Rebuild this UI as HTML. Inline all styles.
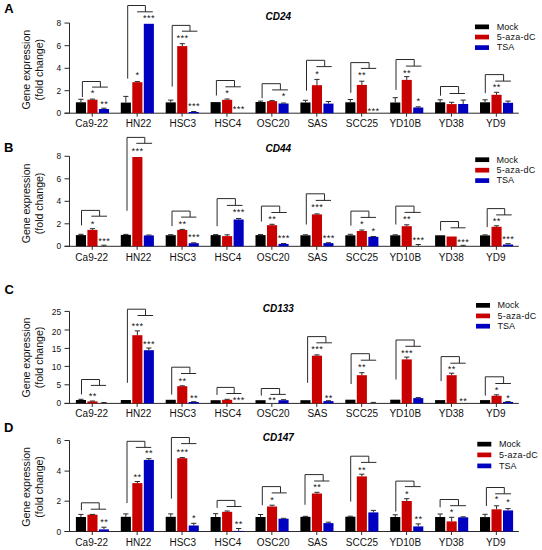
<!DOCTYPE html>
<html><head><meta charset="utf-8"><style>
html,body{margin:0;padding:0;background:#fff;}
body{width:542px;height:550px;overflow:hidden;}
svg{display:block;font-family:"Liberation Sans", sans-serif;}
</style></head><body>
<svg width="542" height="550" viewBox="0 0 542 550">
<rect width="542" height="550" fill="#fff"/>
<text transform="translate(4.3 13.4) scale(1 1.04)" font-size="13.0" font-weight="bold" fill="#000">A</text>
<text x="278.3" y="19.9" font-size="10.0" font-weight="bold" font-style="italic" text-anchor="middle" fill="#000">CD24</text>
<path d="M69.5 23.05V113.2" stroke="#2a2a2a" stroke-width="1.0" fill="none"/>
<path d="M64.5 113.2H69.5" stroke="#2a2a2a" stroke-width="1.0"/>
<text x="61.2" y="116.2" font-size="8.4" text-anchor="end" fill="#111">0</text>
<path d="M64.5 90.7H69.5" stroke="#2a2a2a" stroke-width="1.0"/>
<text x="61.2" y="93.7" font-size="8.4" text-anchor="end" fill="#111">2</text>
<path d="M64.5 68.3H69.5" stroke="#2a2a2a" stroke-width="1.0"/>
<text x="61.2" y="71.3" font-size="8.4" text-anchor="end" fill="#111">4</text>
<path d="M64.5 45.7H69.5" stroke="#2a2a2a" stroke-width="1.0"/>
<text x="61.2" y="48.7" font-size="8.4" text-anchor="end" fill="#111">6</text>
<path d="M64.5 23.05H69.5" stroke="#2a2a2a" stroke-width="1.0"/>
<text x="61.2" y="26.05" font-size="8.4" text-anchor="end" fill="#111">8</text>
<path d="M64.5 113.2H518.8" stroke="#2a2a2a" stroke-width="1.0" fill="none"/>
<text transform="translate(29.9 69.7) rotate(-90)" font-size="10.55" text-anchor="middle" fill="#111">Gene expression</text>
<text transform="translate(43 69.7) rotate(-90)" font-size="10.55" text-anchor="middle" fill="#111">(fold change)</text>
<rect x="75.9" y="102.3" width="10.1" height="10.9" fill="#000000"/>
<path d="M80.95 102.3V99.3M78.35 99.3H83.55" stroke="#2a2a2a" stroke-width="1.0" fill="none"/>
<rect x="87.4" y="99.7" width="10.1" height="13.5" fill="#c80000"/>
<path d="M92.45 99.7V99.1M89.85 99.1H95.05" stroke="#2a2a2a" stroke-width="1.0" fill="none"/>
<rect x="98.9" y="109" width="10.1" height="4.2" fill="#0000c0"/>
<path d="M103.95 109V108.2M101.35 108.2H106.55" stroke="#2a2a2a" stroke-width="1.0" fill="none"/>
<path d="M92.25 113.2V116.7" stroke="#2a2a2a" stroke-width="1.0"/>
<text x="91.75" y="127" font-size="10.0" text-anchor="middle" fill="#111">Ca9-22</text>
<path d="M82.4 97V81.5H100.4V87.1M92.1 87.1H107.8" stroke="#2a2a2a" stroke-width="1.0" fill="none"/>
<text x="92.66" y="96.3" font-size="9.2" text-anchor="middle" letter-spacing="0.42" fill="#111">*</text>
<text x="104.16" y="107" font-size="9.2" text-anchor="middle" letter-spacing="0.42" fill="#111">**</text>
<rect x="120.8" y="102.6" width="10.1" height="10.6" fill="#000000"/>
<path d="M125.85 102.6V96.4M123.25 96.4H128.45" stroke="#2a2a2a" stroke-width="1.0" fill="none"/>
<rect x="132.3" y="82.2" width="10.1" height="31" fill="#c80000"/>
<path d="M137.35 82.2V81.6M134.75 81.6H139.95" stroke="#2a2a2a" stroke-width="1.0" fill="none"/>
<rect x="143.8" y="23.8" width="10.1" height="89.4" fill="#0000c0"/>
<path d="M137.15 113.2V116.7" stroke="#2a2a2a" stroke-width="1.0"/>
<text x="138.55" y="127" font-size="10.0" text-anchor="middle" fill="#111">HN22</text>
<path d="M127.7 78.6V5.5H145.4V11.8M137.1 11.8H152.8" stroke="#2a2a2a" stroke-width="1.0" fill="none"/>
<text x="137.56" y="78.3" font-size="9.2" text-anchor="middle" letter-spacing="0.42" fill="#111">*</text>
<text x="149.06" y="20.8" font-size="9.2" text-anchor="middle" letter-spacing="0.42" fill="#111">***</text>
<rect x="165.7" y="102.4" width="10.1" height="10.8" fill="#000000"/>
<path d="M170.75 102.4V100.1M168.15 100.1H173.35" stroke="#2a2a2a" stroke-width="1.0" fill="none"/>
<rect x="177.2" y="46.1" width="10.1" height="67.1" fill="#c80000"/>
<path d="M182.25 46.1V43.7M179.65 43.7H184.85" stroke="#2a2a2a" stroke-width="1.0" fill="none"/>
<rect x="188.7" y="112" width="10.1" height="1.2" fill="#0000c0"/>
<path d="M193.75 112V111.5M191.15 111.5H196.35" stroke="#2a2a2a" stroke-width="1.0" fill="none"/>
<path d="M182.05 113.2V116.7" stroke="#2a2a2a" stroke-width="1.0"/>
<text x="182.75" y="127" font-size="10.0" text-anchor="middle" fill="#111">HSC3</text>
<path d="M172.2 86.6V25.4H190V31.2M181.9 31.2H197.4" stroke="#2a2a2a" stroke-width="1.0" fill="none"/>
<text x="182.46" y="41.3" font-size="9.2" text-anchor="middle" letter-spacing="0.42" fill="#111">***</text>
<text x="193.96" y="108.7" font-size="9.2" text-anchor="middle" letter-spacing="0.42" fill="#111">***</text>
<rect x="210.6" y="102.1" width="10.1" height="11.1" fill="#000000"/>
<rect x="222.1" y="99.8" width="10.1" height="13.4" fill="#c80000"/>
<path d="M227.15 99.8V99M224.55 99H229.75" stroke="#2a2a2a" stroke-width="1.0" fill="none"/>
<path d="M226.95 113.2V116.7" stroke="#2a2a2a" stroke-width="1.0"/>
<text x="227.95" y="127" font-size="10.0" text-anchor="middle" fill="#111">HSC4</text>
<path d="M216.4 95.5V80.5H234.5V86.8M225.4 86.8H240.8" stroke="#2a2a2a" stroke-width="1.0" fill="none"/>
<text x="227.36" y="95.9" font-size="9.2" text-anchor="middle" letter-spacing="0.42" fill="#111">*</text>
<text x="238.86" y="112.3" font-size="9.2" text-anchor="middle" letter-spacing="0.42" fill="#111">***</text>
<rect x="255.5" y="102" width="10.1" height="11.2" fill="#000000"/>
<path d="M260.55 102V101.1M257.95 101.1H263.15" stroke="#2a2a2a" stroke-width="1.0" fill="none"/>
<rect x="267" y="101.1" width="10.1" height="12.1" fill="#c80000"/>
<path d="M272.05 101.1V100.6M269.45 100.6H274.65" stroke="#2a2a2a" stroke-width="1.0" fill="none"/>
<rect x="278.5" y="103.5" width="10.1" height="9.7" fill="#0000c0"/>
<path d="M283.55 103.5V103M280.95 103H286.15" stroke="#2a2a2a" stroke-width="1.0" fill="none"/>
<path d="M271.85 113.2V116.7" stroke="#2a2a2a" stroke-width="1.0"/>
<text x="273.25" y="127" font-size="10.0" text-anchor="middle" fill="#111">OSC20</text>
<path d="M262.1 98.2V83.7H280.4V89.9M272.1 89.9H287.9" stroke="#2a2a2a" stroke-width="1.0" fill="none"/>
<text x="283.76" y="99.2" font-size="9.2" text-anchor="middle" letter-spacing="0.42" fill="#111">*</text>
<rect x="300.4" y="102.5" width="10.1" height="10.7" fill="#000000"/>
<path d="M305.45 102.5V100.3M302.85 100.3H308.05" stroke="#2a2a2a" stroke-width="1.0" fill="none"/>
<rect x="311.9" y="85.2" width="10.1" height="28" fill="#c80000"/>
<path d="M316.95 85.2V79.4M314.35 79.4H319.55" stroke="#2a2a2a" stroke-width="1.0" fill="none"/>
<rect x="323.4" y="103.6" width="10.1" height="9.6" fill="#0000c0"/>
<path d="M328.45 103.6V101.5M325.85 101.5H331.05" stroke="#2a2a2a" stroke-width="1.0" fill="none"/>
<path d="M316.75 113.2V116.7" stroke="#2a2a2a" stroke-width="1.0"/>
<text x="317.45" y="127" font-size="10.0" text-anchor="middle" fill="#111">SAS</text>
<path d="M306.5 90.7V60.3H324.7V66.6M316.4 66.6H331.7" stroke="#2a2a2a" stroke-width="1.0" fill="none"/>
<text x="317.16" y="76.8" font-size="9.2" text-anchor="middle" letter-spacing="0.42" fill="#111">*</text>
<rect x="345.3" y="102.3" width="10.1" height="10.9" fill="#000000"/>
<path d="M350.35 102.3V99.5M347.75 99.5H352.95" stroke="#2a2a2a" stroke-width="1.0" fill="none"/>
<rect x="356.8" y="84.9" width="10.1" height="28.3" fill="#c80000"/>
<path d="M361.85 84.9V81.2M359.25 81.2H364.45" stroke="#2a2a2a" stroke-width="1.0" fill="none"/>
<path d="M361.65 113.2V116.7" stroke="#2a2a2a" stroke-width="1.0"/>
<text x="361.95" y="127" font-size="10.0" text-anchor="middle" fill="#111">SCC25</text>
<path d="M350.8 92.8V62.6H369.1V68.4M360.8 68.4H376.2" stroke="#2a2a2a" stroke-width="1.0" fill="none"/>
<text x="362.06" y="78.4" font-size="9.2" text-anchor="middle" letter-spacing="0.42" fill="#111">**</text>
<text x="373.56" y="114" font-size="9.2" text-anchor="middle" letter-spacing="0.42" fill="#111">***</text>
<rect x="390.2" y="102.5" width="10.1" height="10.7" fill="#000000"/>
<path d="M395.25 102.5V97.7M392.65 97.7H397.85" stroke="#2a2a2a" stroke-width="1.0" fill="none"/>
<rect x="401.7" y="79.9" width="10.1" height="33.3" fill="#c80000"/>
<path d="M406.75 79.9V76.6M404.15 76.6H409.35" stroke="#2a2a2a" stroke-width="1.0" fill="none"/>
<rect x="413.2" y="107.5" width="10.1" height="5.7" fill="#0000c0"/>
<path d="M418.25 107.5V106.8M415.65 106.8H420.85" stroke="#2a2a2a" stroke-width="1.0" fill="none"/>
<path d="M406.55 113.2V116.7" stroke="#2a2a2a" stroke-width="1.0"/>
<text x="405.25" y="127" font-size="10.0" text-anchor="middle" fill="#111">YD10B</text>
<path d="M396 89.9V59.5H414.2V66.1M405.9 66.1H421.4" stroke="#2a2a2a" stroke-width="1.0" fill="none"/>
<text x="406.96" y="75.5" font-size="9.2" text-anchor="middle" letter-spacing="0.42" fill="#111">**</text>
<text x="418.46" y="104" font-size="9.2" text-anchor="middle" letter-spacing="0.42" fill="#111">*</text>
<rect x="435.1" y="102.3" width="10.1" height="10.9" fill="#000000"/>
<path d="M440.15 102.3V99.8M437.55 99.8H442.75" stroke="#2a2a2a" stroke-width="1.0" fill="none"/>
<rect x="446.6" y="104.1" width="10.1" height="9.1" fill="#c80000"/>
<path d="M451.65 104.1V102.3M449.05 102.3H454.25" stroke="#2a2a2a" stroke-width="1.0" fill="none"/>
<rect x="458.1" y="104" width="10.1" height="9.2" fill="#0000c0"/>
<path d="M463.15 104V100.1M460.55 100.1H465.75" stroke="#2a2a2a" stroke-width="1.0" fill="none"/>
<path d="M451.45 113.2V116.7" stroke="#2a2a2a" stroke-width="1.0"/>
<text x="451.25" y="127" font-size="10.0" text-anchor="middle" fill="#111">YD38</text>
<path d="M440.5 95.7V86.5H458.6V93.5M449.6 93.5H464.9" stroke="#2a2a2a" stroke-width="1.0" fill="none"/>
<rect x="480" y="102.3" width="10.1" height="10.9" fill="#000000"/>
<path d="M485.05 102.3V99.8M482.45 99.8H487.65" stroke="#2a2a2a" stroke-width="1.0" fill="none"/>
<rect x="491.5" y="94.8" width="10.1" height="18.4" fill="#c80000"/>
<path d="M496.55 94.8V92.3M493.95 92.3H499.15" stroke="#2a2a2a" stroke-width="1.0" fill="none"/>
<rect x="503" y="102.8" width="10.1" height="10.4" fill="#0000c0"/>
<path d="M508.05 102.8V101.1M505.45 101.1H510.65" stroke="#2a2a2a" stroke-width="1.0" fill="none"/>
<path d="M496.35 113.2V116.7" stroke="#2a2a2a" stroke-width="1.0"/>
<text x="495.75" y="127" font-size="10.0" text-anchor="middle" fill="#111">YD9</text>
<path d="M485.3 93.2V74.6H503.6V81.1M495.3 81.1H510.9" stroke="#2a2a2a" stroke-width="1.0" fill="none"/>
<text x="496.76" y="89.6" font-size="9.2" text-anchor="middle" letter-spacing="0.42" fill="#111">**</text>
<rect x="475" y="24.5" width="14" height="4.7" fill="#000000"/>
<text x="496.8" y="29.65" font-size="9.0" fill="#111">Mock</text>
<rect x="475" y="34.7" width="14" height="4.7" fill="#c80000"/>
<text x="496.8" y="39.85" font-size="9.0" fill="#111" letter-spacing="0.25">5-aza-dC</text>
<rect x="475" y="45.25" width="14" height="4.7" fill="#0000c0"/>
<text x="496.8" y="50.4" font-size="9.0" fill="#111">TSA</text>
<text transform="translate(4.1 152.4) scale(1 1.04)" font-size="13.0" font-weight="bold" fill="#000">B</text>
<text x="278.3" y="151.6" font-size="10.0" font-weight="bold" font-style="italic" text-anchor="middle" fill="#000">CD44</text>
<path d="M69.5 156.3V246.3" stroke="#2a2a2a" stroke-width="1.0" fill="none"/>
<path d="M64.5 246.3H69.5" stroke="#2a2a2a" stroke-width="1.0"/>
<text x="61.2" y="249.3" font-size="8.4" text-anchor="end" fill="#111">0</text>
<path d="M64.5 223.8H69.5" stroke="#2a2a2a" stroke-width="1.0"/>
<text x="61.2" y="226.8" font-size="8.4" text-anchor="end" fill="#111">2</text>
<path d="M64.5 201.3H69.5" stroke="#2a2a2a" stroke-width="1.0"/>
<text x="61.2" y="204.3" font-size="8.4" text-anchor="end" fill="#111">4</text>
<path d="M64.5 178.8H69.5" stroke="#2a2a2a" stroke-width="1.0"/>
<text x="61.2" y="181.8" font-size="8.4" text-anchor="end" fill="#111">6</text>
<path d="M64.5 156.3H69.5" stroke="#2a2a2a" stroke-width="1.0"/>
<text x="61.2" y="159.3" font-size="8.4" text-anchor="end" fill="#111">8</text>
<path d="M64.5 246.3H518.8" stroke="#2a2a2a" stroke-width="1.0" fill="none"/>
<text transform="translate(29.9 203.4) rotate(-90)" font-size="10.55" text-anchor="middle" fill="#111">Gene expression</text>
<text transform="translate(43 203.4) rotate(-90)" font-size="10.55" text-anchor="middle" fill="#111">(fold change)</text>
<rect x="75.9" y="235.1" width="10.1" height="11.2" fill="#000000"/>
<path d="M80.95 235.1V234.3M78.35 234.3H83.55" stroke="#2a2a2a" stroke-width="1.0" fill="none"/>
<rect x="87.4" y="229.9" width="10.1" height="16.4" fill="#c80000"/>
<path d="M92.45 229.9V228.7M89.85 228.7H95.05" stroke="#2a2a2a" stroke-width="1.0" fill="none"/>
<path d="M103.95 246.3V245.2M101.35 245.2H106.55" stroke="#2a2a2a" stroke-width="1.0" fill="none"/>
<path d="M92.25 246.3V249.8" stroke="#2a2a2a" stroke-width="1.0"/>
<text x="91.75" y="260.8" font-size="10.0" text-anchor="middle" fill="#111">Ca9-22</text>
<path d="M81.5 225.4V210.4H99.6V216.2M91.3 216.2H107" stroke="#2a2a2a" stroke-width="1.0" fill="none"/>
<text x="92.66" y="226.5" font-size="9.2" text-anchor="middle" letter-spacing="0.42" fill="#111">*</text>
<text x="104.16" y="244.1" font-size="9.2" text-anchor="middle" letter-spacing="0.42" fill="#111">***</text>
<rect x="120.8" y="234.9" width="10.1" height="11.4" fill="#000000"/>
<path d="M125.85 234.9V234.4M123.25 234.4H128.45" stroke="#2a2a2a" stroke-width="1.0" fill="none"/>
<rect x="132.3" y="157" width="10.1" height="89.3" fill="#c80000"/>
<rect x="143.8" y="235.4" width="10.1" height="10.9" fill="#0000c0"/>
<path d="M148.85 235.4V235M146.25 235H151.45" stroke="#2a2a2a" stroke-width="1.0" fill="none"/>
<path d="M137.15 246.3V249.8" stroke="#2a2a2a" stroke-width="1.0"/>
<text x="138.55" y="260.8" font-size="10.0" text-anchor="middle" fill="#111">HN22</text>
<path d="M127 210.8V137.4H144.8V143.3M136.3 143.3H152.1" stroke="#2a2a2a" stroke-width="1.0" fill="none"/>
<text x="137.56" y="154.3" font-size="9.2" text-anchor="middle" letter-spacing="0.42" fill="#111">***</text>
<rect x="165.7" y="235.2" width="10.1" height="11.1" fill="#000000"/>
<path d="M170.75 235.2V234.7M168.15 234.7H173.35" stroke="#2a2a2a" stroke-width="1.0" fill="none"/>
<rect x="177.2" y="229.9" width="10.1" height="16.4" fill="#c80000"/>
<path d="M182.25 229.9V229.4M179.65 229.4H184.85" stroke="#2a2a2a" stroke-width="1.0" fill="none"/>
<rect x="188.7" y="243.2" width="10.1" height="3.1" fill="#0000c0"/>
<path d="M193.75 243.2V242.8M191.15 242.8H196.35" stroke="#2a2a2a" stroke-width="1.0" fill="none"/>
<path d="M182.05 246.3V249.8" stroke="#2a2a2a" stroke-width="1.0"/>
<text x="182.75" y="260.8" font-size="10.0" text-anchor="middle" fill="#111">HSC3</text>
<path d="M172 226.1V211.1H190.1V217.1M181.1 217.1H196.4" stroke="#2a2a2a" stroke-width="1.0" fill="none"/>
<text x="182.46" y="227.1" font-size="9.2" text-anchor="middle" letter-spacing="0.42" fill="#111">**</text>
<text x="193.96" y="239.6" font-size="9.2" text-anchor="middle" letter-spacing="0.42" fill="#111">***</text>
<rect x="210.6" y="235.1" width="10.1" height="11.2" fill="#000000"/>
<path d="M215.65 235.1V234.6M213.05 234.6H218.25" stroke="#2a2a2a" stroke-width="1.0" fill="none"/>
<rect x="222.1" y="236.1" width="10.1" height="10.2" fill="#c80000"/>
<path d="M227.15 236.1V234.8M224.55 234.8H229.75" stroke="#2a2a2a" stroke-width="1.0" fill="none"/>
<rect x="233.6" y="219.5" width="10.1" height="26.8" fill="#0000c0"/>
<path d="M238.65 219.5V218.5M236.05 218.5H241.25" stroke="#2a2a2a" stroke-width="1.0" fill="none"/>
<path d="M226.95 246.3V249.8" stroke="#2a2a2a" stroke-width="1.0"/>
<text x="227.95" y="260.8" font-size="10.0" text-anchor="middle" fill="#111">HSC4</text>
<path d="M217.1 226.2V198.6H235.4V205.4M226.9 205.4H242.5" stroke="#2a2a2a" stroke-width="1.0" fill="none"/>
<text x="238.86" y="215.4" font-size="9.2" text-anchor="middle" letter-spacing="0.42" fill="#111">***</text>
<rect x="255.5" y="235.1" width="10.1" height="11.2" fill="#000000"/>
<path d="M260.55 235.1V234.6M257.95 234.6H263.15" stroke="#2a2a2a" stroke-width="1.0" fill="none"/>
<rect x="267" y="225.2" width="10.1" height="21.1" fill="#c80000"/>
<path d="M272.05 225.2V224.3M269.45 224.3H274.65" stroke="#2a2a2a" stroke-width="1.0" fill="none"/>
<rect x="278.5" y="243.9" width="10.1" height="2.4" fill="#0000c0"/>
<path d="M283.55 243.9V243.5M280.95 243.5H286.15" stroke="#2a2a2a" stroke-width="1.0" fill="none"/>
<path d="M271.85 246.3V249.8" stroke="#2a2a2a" stroke-width="1.0"/>
<text x="273.25" y="260.8" font-size="10.0" text-anchor="middle" fill="#111">OSC20</text>
<path d="M261.4 221.5V206.1H279.7V212.5M271.4 212.5H286.7" stroke="#2a2a2a" stroke-width="1.0" fill="none"/>
<text x="272.26" y="222.1" font-size="9.2" text-anchor="middle" letter-spacing="0.42" fill="#111">**</text>
<text x="283.76" y="241.2" font-size="9.2" text-anchor="middle" letter-spacing="0.42" fill="#111">***</text>
<rect x="300.4" y="235.3" width="10.1" height="11" fill="#000000"/>
<path d="M305.45 235.3V234.8M302.85 234.8H308.05" stroke="#2a2a2a" stroke-width="1.0" fill="none"/>
<rect x="311.9" y="214.4" width="10.1" height="31.9" fill="#c80000"/>
<path d="M316.95 214.4V213.9M314.35 213.9H319.55" stroke="#2a2a2a" stroke-width="1.0" fill="none"/>
<rect x="323.4" y="243.1" width="10.1" height="3.2" fill="#0000c0"/>
<path d="M328.45 243.1V242.7M325.85 242.7H331.05" stroke="#2a2a2a" stroke-width="1.0" fill="none"/>
<path d="M316.75 246.3V249.8" stroke="#2a2a2a" stroke-width="1.0"/>
<text x="317.45" y="260.8" font-size="10.0" text-anchor="middle" fill="#111">SAS</text>
<path d="M306.3 224.5V193.8H324.5V200.4M315.7 200.4H331" stroke="#2a2a2a" stroke-width="1.0" fill="none"/>
<text x="317.16" y="210.4" font-size="9.2" text-anchor="middle" letter-spacing="0.42" fill="#111">***</text>
<text x="328.66" y="241.2" font-size="9.2" text-anchor="middle" letter-spacing="0.42" fill="#111">***</text>
<rect x="345.3" y="235.3" width="10.1" height="11" fill="#000000"/>
<path d="M350.35 235.3V234.3M347.75 234.3H352.95" stroke="#2a2a2a" stroke-width="1.0" fill="none"/>
<rect x="356.8" y="231" width="10.1" height="15.3" fill="#c80000"/>
<path d="M361.85 231V230M359.25 230H364.45" stroke="#2a2a2a" stroke-width="1.0" fill="none"/>
<rect x="368.3" y="236.8" width="10.1" height="9.5" fill="#0000c0"/>
<path d="M373.35 236.8V236.5M370.75 236.5H375.95" stroke="#2a2a2a" stroke-width="1.0" fill="none"/>
<path d="M361.65 246.3V249.8" stroke="#2a2a2a" stroke-width="1.0"/>
<text x="361.95" y="260.8" font-size="10.0" text-anchor="middle" fill="#111">SCC25</text>
<path d="M350.9 225.7V211.1H368.9V217.4M360.6 217.4H376" stroke="#2a2a2a" stroke-width="1.0" fill="none"/>
<text x="362.06" y="226.7" font-size="9.2" text-anchor="middle" letter-spacing="0.42" fill="#111">*</text>
<text x="373.56" y="233.7" font-size="9.2" text-anchor="middle" letter-spacing="0.42" fill="#111">*</text>
<rect x="390.2" y="235.3" width="10.1" height="11" fill="#000000"/>
<path d="M395.25 235.3V234.8M392.65 234.8H397.85" stroke="#2a2a2a" stroke-width="1.0" fill="none"/>
<rect x="401.7" y="226.2" width="10.1" height="20.1" fill="#c80000"/>
<path d="M406.75 226.2V224.8M404.15 224.8H409.35" stroke="#2a2a2a" stroke-width="1.0" fill="none"/>
<path d="M418.25 246.3V244.5M415.65 244.5H420.85" stroke="#2a2a2a" stroke-width="1.0" fill="none"/>
<path d="M406.55 246.3V249.8" stroke="#2a2a2a" stroke-width="1.0"/>
<text x="405.25" y="260.8" font-size="10.0" text-anchor="middle" fill="#111">YD10B</text>
<path d="M395.8 224.5V206.1H414V212.4M404.6 212.4H420.7" stroke="#2a2a2a" stroke-width="1.0" fill="none"/>
<text x="406.96" y="222.1" font-size="9.2" text-anchor="middle" letter-spacing="0.42" fill="#111">**</text>
<text x="418.46" y="242.8" font-size="9.2" text-anchor="middle" letter-spacing="0.42" fill="#111">***</text>
<rect x="435.1" y="235.3" width="10.1" height="11" fill="#000000"/>
<rect x="446.6" y="236.5" width="10.1" height="9.8" fill="#c80000"/>
<path d="M463.15 246.3V245.3M460.55 245.3H465.75" stroke="#2a2a2a" stroke-width="1.0" fill="none"/>
<path d="M451.45 246.3V249.8" stroke="#2a2a2a" stroke-width="1.0"/>
<text x="451.25" y="260.8" font-size="10.0" text-anchor="middle" fill="#111">YD38</text>
<path d="M440.6 230.6V221.5H458.5V227.8M450.6 227.8H465.5" stroke="#2a2a2a" stroke-width="1.0" fill="none"/>
<text x="463.36" y="245.3" font-size="9.2" text-anchor="middle" letter-spacing="0.42" fill="#111">***</text>
<rect x="480" y="235.4" width="10.1" height="10.9" fill="#000000"/>
<path d="M485.05 235.4V234.9M482.45 234.9H487.65" stroke="#2a2a2a" stroke-width="1.0" fill="none"/>
<rect x="491.5" y="226.8" width="10.1" height="19.5" fill="#c80000"/>
<path d="M496.55 226.8V225.8M493.95 225.8H499.15" stroke="#2a2a2a" stroke-width="1.0" fill="none"/>
<rect x="503" y="244.5" width="10.1" height="1.8" fill="#0000c0"/>
<path d="M508.05 244.5V243.7M505.45 243.7H510.65" stroke="#2a2a2a" stroke-width="1.0" fill="none"/>
<path d="M496.35 246.3V249.8" stroke="#2a2a2a" stroke-width="1.0"/>
<text x="495.75" y="260.8" font-size="10.0" text-anchor="middle" fill="#111">YD9</text>
<path d="M487.2 227.1V208.6H504.7V214.9M496.2 214.9H511.7" stroke="#2a2a2a" stroke-width="1.0" fill="none"/>
<text x="496.76" y="223.5" font-size="9.2" text-anchor="middle" letter-spacing="0.42" fill="#111">**</text>
<text x="508.26" y="242" font-size="9.2" text-anchor="middle" letter-spacing="0.42" fill="#111">***</text>
<rect x="475.2" y="157.35" width="14" height="4.7" fill="#000000"/>
<text x="496.4" y="162.5" font-size="9.0" fill="#111">Mock</text>
<rect x="475.2" y="167.85" width="14" height="4.7" fill="#c80000"/>
<text x="496.4" y="173" font-size="9.0" fill="#111" letter-spacing="0.25">5-aza-dC</text>
<rect x="475.2" y="178.25" width="14" height="4.7" fill="#0000c0"/>
<text x="496.4" y="183.4" font-size="9.0" fill="#111">TSA</text>
<text transform="translate(4.4 294.2) scale(1 1.04)" font-size="13.0" font-weight="bold" fill="#000">C</text>
<text x="278.3" y="311.6" font-size="10.0" font-weight="bold" font-style="italic" text-anchor="middle" fill="#000">CD133</text>
<path d="M69.5 311.4V403.4" stroke="#2a2a2a" stroke-width="1.0" fill="none"/>
<path d="M64.5 403.4H69.5" stroke="#2a2a2a" stroke-width="1.0"/>
<text x="61.2" y="406.4" font-size="8.4" text-anchor="end" fill="#111">0</text>
<path d="M64.5 384.8H69.5" stroke="#2a2a2a" stroke-width="1.0"/>
<text x="61.2" y="388.4" font-size="8.4" text-anchor="end" fill="#111">5</text>
<path d="M64.5 366.4H69.5" stroke="#2a2a2a" stroke-width="1.0"/>
<text x="61.2" y="370.4" font-size="8.4" text-anchor="end" fill="#111">10</text>
<path d="M64.5 348.4H69.5" stroke="#2a2a2a" stroke-width="1.0"/>
<text x="61.2" y="352.4" font-size="8.4" text-anchor="end" fill="#111">15</text>
<path d="M64.5 330H69.5" stroke="#2a2a2a" stroke-width="1.0"/>
<text x="61.2" y="334.5" font-size="8.4" text-anchor="end" fill="#111">20</text>
<path d="M64.5 311.4H69.5" stroke="#2a2a2a" stroke-width="1.0"/>
<text x="61.2" y="315.4" font-size="8.4" text-anchor="end" fill="#111">25</text>
<path d="M64.5 403.4H518.8" stroke="#2a2a2a" stroke-width="1.0" fill="none"/>
<text transform="translate(29.9 357.5) rotate(-90)" font-size="10.55" text-anchor="middle" fill="#111">Gene expression</text>
<text transform="translate(43 357.5) rotate(-90)" font-size="10.55" text-anchor="middle" fill="#111">(fold change)</text>
<rect x="75.9" y="400" width="10.1" height="3.4" fill="#000000"/>
<path d="M80.95 400V399.3M78.35 399.3H83.55" stroke="#2a2a2a" stroke-width="1.0" fill="none"/>
<rect x="87.4" y="401.4" width="10.1" height="2" fill="#c80000"/>
<path d="M92.45 401.4V401M89.85 401H95.05" stroke="#2a2a2a" stroke-width="1.0" fill="none"/>
<path d="M103.95 403.4V402.5M101.35 402.5H106.55" stroke="#2a2a2a" stroke-width="1.0" fill="none"/>
<path d="M92.25 403.4V406.9" stroke="#2a2a2a" stroke-width="1.0"/>
<text x="91.75" y="416.6" font-size="10.0" text-anchor="middle" fill="#111">Ca9-22</text>
<path d="M81.5 394.4V379.5H99.5V385.4M90.9 385.4H106.1" stroke="#2a2a2a" stroke-width="1.0" fill="none"/>
<text x="92.66" y="398.5" font-size="9.2" text-anchor="middle" letter-spacing="0.42" fill="#111">**</text>
<rect x="120.8" y="400" width="10.1" height="3.4" fill="#000000"/>
<rect x="132.3" y="335.2" width="10.1" height="68.2" fill="#c80000"/>
<path d="M137.35 335.2V330.9M134.75 330.9H139.95" stroke="#2a2a2a" stroke-width="1.0" fill="none"/>
<rect x="143.8" y="350.2" width="10.1" height="53.2" fill="#0000c0"/>
<path d="M148.85 350.2V348M146.25 348H151.45" stroke="#2a2a2a" stroke-width="1.0" fill="none"/>
<path d="M137.15 403.4V406.9" stroke="#2a2a2a" stroke-width="1.0"/>
<text x="138.55" y="416.6" font-size="10.0" text-anchor="middle" fill="#111">HN22</text>
<path d="M127.4 382.8V309.2H145.5V315.5M137.5 315.5H153.1" stroke="#2a2a2a" stroke-width="1.0" fill="none"/>
<text x="137.56" y="328.9" font-size="9.2" text-anchor="middle" letter-spacing="0.42" fill="#111">***</text>
<text x="149.06" y="346.7" font-size="9.2" text-anchor="middle" letter-spacing="0.42" fill="#111">***</text>
<rect x="165.7" y="399.8" width="10.1" height="3.6" fill="#000000"/>
<rect x="177.2" y="386.2" width="10.1" height="17.2" fill="#c80000"/>
<path d="M182.25 386.2V385.8M179.65 385.8H184.85" stroke="#2a2a2a" stroke-width="1.0" fill="none"/>
<rect x="188.7" y="402" width="10.1" height="1.4" fill="#0000c0"/>
<path d="M193.75 402V401.7M191.15 401.7H196.35" stroke="#2a2a2a" stroke-width="1.0" fill="none"/>
<path d="M182.05 403.4V406.9" stroke="#2a2a2a" stroke-width="1.0"/>
<text x="182.75" y="416.6" font-size="10.0" text-anchor="middle" fill="#111">HSC3</text>
<path d="M171.7 394.5V367.2H189.9V373.5M181 373.5H196.2" stroke="#2a2a2a" stroke-width="1.0" fill="none"/>
<text x="182.46" y="383.7" font-size="9.2" text-anchor="middle" letter-spacing="0.42" fill="#111">**</text>
<text x="193.96" y="400.9" font-size="9.2" text-anchor="middle" letter-spacing="0.42" fill="#111">**</text>
<rect x="210.6" y="400.2" width="10.1" height="3.2" fill="#000000"/>
<rect x="222.1" y="399.8" width="10.1" height="3.6" fill="#c80000"/>
<path d="M227.15 399.8V399.3M224.55 399.3H229.75" stroke="#2a2a2a" stroke-width="1.0" fill="none"/>
<path d="M226.95 403.4V406.9" stroke="#2a2a2a" stroke-width="1.0"/>
<text x="227.95" y="416.6" font-size="10.0" text-anchor="middle" fill="#111">HSC4</text>
<path d="M217 394.9V387.4H234.2V393.5M226.4 393.5H241.4" stroke="#2a2a2a" stroke-width="1.0" fill="none"/>
<text x="238.86" y="403.2" font-size="9.2" text-anchor="middle" letter-spacing="0.42" fill="#111">***</text>
<rect x="255.5" y="400.2" width="10.1" height="3.2" fill="#000000"/>
<rect x="278.5" y="400.2" width="10.1" height="3.2" fill="#0000c0"/>
<path d="M283.55 400.2V399.7M280.95 399.7H286.15" stroke="#2a2a2a" stroke-width="1.0" fill="none"/>
<path d="M271.85 403.4V406.9" stroke="#2a2a2a" stroke-width="1.0"/>
<text x="273.25" y="416.6" font-size="10.0" text-anchor="middle" fill="#111">OSC20</text>
<path d="M261.3 395.6V388.5H279.6V394.4M270.4 394.4H285.7" stroke="#2a2a2a" stroke-width="1.0" fill="none"/>
<text x="272.26" y="402.8" font-size="9.2" text-anchor="middle" letter-spacing="0.42" fill="#111">**</text>
<rect x="300.4" y="400.2" width="10.1" height="3.2" fill="#000000"/>
<rect x="311.9" y="355.7" width="10.1" height="47.7" fill="#c80000"/>
<path d="M316.95 355.7V354.9M314.35 354.9H319.55" stroke="#2a2a2a" stroke-width="1.0" fill="none"/>
<rect x="323.4" y="401.1" width="10.1" height="2.3" fill="#0000c0"/>
<path d="M328.45 401.1V400.7M325.85 400.7H331.05" stroke="#2a2a2a" stroke-width="1.0" fill="none"/>
<path d="M316.75 403.4V406.9" stroke="#2a2a2a" stroke-width="1.0"/>
<text x="317.45" y="416.6" font-size="10.0" text-anchor="middle" fill="#111">SAS</text>
<path d="M307.6 382.8V336.6H325.9V342.8M316.4 342.8H331.9" stroke="#2a2a2a" stroke-width="1.0" fill="none"/>
<text x="317.16" y="352.1" font-size="9.2" text-anchor="middle" letter-spacing="0.42" fill="#111">***</text>
<text x="328.66" y="400.8" font-size="9.2" text-anchor="middle" letter-spacing="0.42" fill="#111">**</text>
<rect x="345.3" y="399.7" width="10.1" height="3.7" fill="#000000"/>
<rect x="356.8" y="375.2" width="10.1" height="28.2" fill="#c80000"/>
<path d="M361.85 375.2V372.7M359.25 372.7H364.45" stroke="#2a2a2a" stroke-width="1.0" fill="none"/>
<path d="M373.35 403.4V402.4M370.75 402.4H375.95" stroke="#2a2a2a" stroke-width="1.0" fill="none"/>
<path d="M361.65 403.4V406.9" stroke="#2a2a2a" stroke-width="1.0"/>
<text x="361.95" y="416.6" font-size="10.0" text-anchor="middle" fill="#111">SCC25</text>
<path d="M351.1 384V353.7H369.4V360.2M360.8 360.2H376.2" stroke="#2a2a2a" stroke-width="1.0" fill="none"/>
<text x="362.06" y="370.4" font-size="9.2" text-anchor="middle" letter-spacing="0.42" fill="#111">**</text>
<rect x="390.2" y="399.7" width="10.1" height="3.7" fill="#000000"/>
<rect x="401.7" y="359.4" width="10.1" height="44" fill="#c80000"/>
<path d="M406.75 359.4V357.1M404.15 357.1H409.35" stroke="#2a2a2a" stroke-width="1.0" fill="none"/>
<rect x="413.2" y="398.1" width="10.1" height="5.3" fill="#0000c0"/>
<path d="M418.25 398.1V397.6M415.65 397.6H420.85" stroke="#2a2a2a" stroke-width="1.0" fill="none"/>
<path d="M406.55 403.4V406.9" stroke="#2a2a2a" stroke-width="1.0"/>
<text x="405.25" y="416.6" font-size="10.0" text-anchor="middle" fill="#111">YD10B</text>
<path d="M396 379.5V340H414.2V346.3M405.3 346.3H420.9" stroke="#2a2a2a" stroke-width="1.0" fill="none"/>
<text x="406.96" y="355.8" font-size="9.2" text-anchor="middle" letter-spacing="0.42" fill="#111">***</text>
<rect x="435.1" y="400.1" width="10.1" height="3.3" fill="#000000"/>
<rect x="446.6" y="375.2" width="10.1" height="28.2" fill="#c80000"/>
<path d="M451.65 375.2V373.2M449.05 373.2H454.25" stroke="#2a2a2a" stroke-width="1.0" fill="none"/>
<path d="M451.45 403.4V406.9" stroke="#2a2a2a" stroke-width="1.0"/>
<text x="451.25" y="416.6" font-size="10.0" text-anchor="middle" fill="#111">YD38</text>
<path d="M441.1 381.1V356.6H459.4V363.2M450.3 363.2H465.7" stroke="#2a2a2a" stroke-width="1.0" fill="none"/>
<text x="451.86" y="371.6" font-size="9.2" text-anchor="middle" letter-spacing="0.42" fill="#111">**</text>
<text x="463.36" y="403.6" font-size="9.2" text-anchor="middle" letter-spacing="0.42" fill="#111">**</text>
<rect x="480" y="400.1" width="10.1" height="3.3" fill="#000000"/>
<rect x="491.5" y="395.8" width="10.1" height="7.6" fill="#c80000"/>
<path d="M496.55 395.8V394.8M493.95 394.8H499.15" stroke="#2a2a2a" stroke-width="1.0" fill="none"/>
<rect x="503" y="401.9" width="10.1" height="1.5" fill="#0000c0"/>
<path d="M508.05 401.9V401.6M505.45 401.6H510.65" stroke="#2a2a2a" stroke-width="1.0" fill="none"/>
<path d="M496.35 403.4V406.9" stroke="#2a2a2a" stroke-width="1.0"/>
<text x="495.75" y="416.6" font-size="10.0" text-anchor="middle" fill="#111">YD9</text>
<path d="M485.3 395.6V376.8H503.6V383.5M495.3 383.5H510.9" stroke="#2a2a2a" stroke-width="1.0" fill="none"/>
<text x="496.76" y="392.8" font-size="9.2" text-anchor="middle" letter-spacing="0.42" fill="#111">*</text>
<text x="508.26" y="400.8" font-size="9.2" text-anchor="middle" letter-spacing="0.42" fill="#111">*</text>
<rect x="476" y="303" width="14" height="4.7" fill="#000000"/>
<text x="497.5" y="308.15" font-size="9.0" fill="#111">Mock</text>
<rect x="476" y="313.55" width="14" height="4.7" fill="#c80000"/>
<text x="497.5" y="318.7" font-size="9.0" fill="#111" letter-spacing="0.25">5-aza-dC</text>
<rect x="476" y="323.85" width="14" height="4.7" fill="#0000c0"/>
<text x="497.5" y="329" font-size="9.0" fill="#111">TSA</text>
<text transform="translate(4.1 431.7) scale(1 1.04)" font-size="13.0" font-weight="bold" fill="#000">D</text>
<text x="278.3" y="440.5" font-size="10.0" font-weight="bold" font-style="italic" text-anchor="middle" fill="#000">CD147</text>
<path d="M69.5 440.5V531.5" stroke="#2a2a2a" stroke-width="1.0" fill="none"/>
<path d="M64.5 531.5H69.5" stroke="#2a2a2a" stroke-width="1.0"/>
<text x="61.2" y="534.5" font-size="8.4" text-anchor="end" fill="#111">0</text>
<path d="M64.5 501.2H69.5" stroke="#2a2a2a" stroke-width="1.0"/>
<text x="61.2" y="504.2" font-size="8.4" text-anchor="end" fill="#111">2</text>
<path d="M64.5 471.1H69.5" stroke="#2a2a2a" stroke-width="1.0"/>
<text x="61.2" y="474.1" font-size="8.4" text-anchor="end" fill="#111">4</text>
<path d="M64.5 440.5H69.5" stroke="#2a2a2a" stroke-width="1.0"/>
<text x="61.2" y="443.5" font-size="8.4" text-anchor="end" fill="#111">6</text>
<path d="M64.5 531.5H518.8" stroke="#2a2a2a" stroke-width="1.0" fill="none"/>
<text transform="translate(29.9 486.9) rotate(-90)" font-size="10.55" text-anchor="middle" fill="#111">Gene expression</text>
<text transform="translate(43 486.9) rotate(-90)" font-size="10.55" text-anchor="middle" fill="#111">(fold change)</text>
<rect x="75.9" y="517" width="10.1" height="14.5" fill="#000000"/>
<path d="M80.95 517V514.4M78.35 514.4H83.55" stroke="#2a2a2a" stroke-width="1.0" fill="none"/>
<rect x="87.4" y="514.7" width="10.1" height="16.8" fill="#c80000"/>
<path d="M92.45 514.7V514.4M89.85 514.4H95.05" stroke="#2a2a2a" stroke-width="1.0" fill="none"/>
<rect x="98.9" y="529.4" width="10.1" height="2.1" fill="#0000c0"/>
<path d="M103.95 529.4V527.2M101.35 527.2H106.55" stroke="#2a2a2a" stroke-width="1.0" fill="none"/>
<path d="M92.25 531.5V535" stroke="#2a2a2a" stroke-width="1.0"/>
<text x="91.75" y="545.6" font-size="10.0" text-anchor="middle" fill="#111">Ca9-22</text>
<path d="M81.4 510.2V502.8H99.2V509.2M90.8 509.2H106.1" stroke="#2a2a2a" stroke-width="1.0" fill="none"/>
<text x="104.16" y="525.2" font-size="9.2" text-anchor="middle" letter-spacing="0.42" fill="#111">**</text>
<rect x="120.8" y="516.8" width="10.1" height="14.7" fill="#000000"/>
<path d="M125.85 516.8V513.9M123.25 513.9H128.45" stroke="#2a2a2a" stroke-width="1.0" fill="none"/>
<rect x="132.3" y="483.1" width="10.1" height="48.4" fill="#c80000"/>
<path d="M137.35 483.1V481.5M134.75 481.5H139.95" stroke="#2a2a2a" stroke-width="1.0" fill="none"/>
<rect x="143.8" y="459.9" width="10.1" height="71.6" fill="#0000c0"/>
<path d="M148.85 459.9V458.7M146.25 458.7H151.45" stroke="#2a2a2a" stroke-width="1.0" fill="none"/>
<path d="M137.15 531.5V535" stroke="#2a2a2a" stroke-width="1.0"/>
<text x="138.55" y="545.6" font-size="10.0" text-anchor="middle" fill="#111">HN22</text>
<path d="M127 503V441.3H144.9V447.4M135.8 447.4H151.2" stroke="#2a2a2a" stroke-width="1.0" fill="none"/>
<text x="137.56" y="479.5" font-size="9.2" text-anchor="middle" letter-spacing="0.42" fill="#111">**</text>
<text x="149.06" y="456.3" font-size="9.2" text-anchor="middle" letter-spacing="0.42" fill="#111">**</text>
<rect x="165.7" y="516.8" width="10.1" height="14.7" fill="#000000"/>
<path d="M170.75 516.8V513.9M168.15 513.9H173.35" stroke="#2a2a2a" stroke-width="1.0" fill="none"/>
<rect x="177.2" y="458.2" width="10.1" height="73.3" fill="#c80000"/>
<path d="M182.25 458.2V457.6M179.65 457.6H184.85" stroke="#2a2a2a" stroke-width="1.0" fill="none"/>
<rect x="188.7" y="525.5" width="10.1" height="6" fill="#0000c0"/>
<path d="M193.75 525.5V523.3M191.15 523.3H196.35" stroke="#2a2a2a" stroke-width="1.0" fill="none"/>
<path d="M182.05 531.5V535" stroke="#2a2a2a" stroke-width="1.0"/>
<text x="182.75" y="545.6" font-size="10.0" text-anchor="middle" fill="#111">HSC3</text>
<path d="M171.4 498.6V437.5H189.4V443.6M181.1 443.6H196.4" stroke="#2a2a2a" stroke-width="1.0" fill="none"/>
<text x="182.46" y="454.9" font-size="9.2" text-anchor="middle" letter-spacing="0.42" fill="#111">***</text>
<text x="193.96" y="520.8" font-size="9.2" text-anchor="middle" letter-spacing="0.42" fill="#111">*</text>
<rect x="210.6" y="517" width="10.1" height="14.5" fill="#000000"/>
<path d="M215.65 517V513.7M213.05 513.7H218.25" stroke="#2a2a2a" stroke-width="1.0" fill="none"/>
<rect x="222.1" y="511.8" width="10.1" height="19.7" fill="#c80000"/>
<path d="M227.15 511.8V511M224.55 511H229.75" stroke="#2a2a2a" stroke-width="1.0" fill="none"/>
<rect x="233.6" y="530.9" width="10.1" height="0.6" fill="#0000c0"/>
<path d="M238.65 530.9V528.5M236.05 528.5H241.25" stroke="#2a2a2a" stroke-width="1.0" fill="none"/>
<path d="M226.95 531.5V535" stroke="#2a2a2a" stroke-width="1.0"/>
<text x="227.95" y="545.6" font-size="10.0" text-anchor="middle" fill="#111">HSC4</text>
<path d="M217.1 507.9V500.4H234.9V506.5M226.6 506.5H241.5" stroke="#2a2a2a" stroke-width="1.0" fill="none"/>
<text x="238.86" y="526.7" font-size="9.2" text-anchor="middle" letter-spacing="0.42" fill="#111">**</text>
<rect x="255.5" y="517" width="10.1" height="14.5" fill="#000000"/>
<path d="M260.55 517V514.5M257.95 514.5H263.15" stroke="#2a2a2a" stroke-width="1.0" fill="none"/>
<rect x="267" y="506.5" width="10.1" height="25" fill="#c80000"/>
<path d="M272.05 506.5V505.2M269.45 505.2H274.65" stroke="#2a2a2a" stroke-width="1.0" fill="none"/>
<rect x="278.5" y="518.7" width="10.1" height="12.8" fill="#0000c0"/>
<path d="M283.55 518.7V518.3M280.95 518.3H286.15" stroke="#2a2a2a" stroke-width="1.0" fill="none"/>
<path d="M271.85 531.5V535" stroke="#2a2a2a" stroke-width="1.0"/>
<text x="273.25" y="545.6" font-size="10.0" text-anchor="middle" fill="#111">OSC20</text>
<path d="M262.3 505.2V486.6H280.5V492.9M271.7 492.9H286.7" stroke="#2a2a2a" stroke-width="1.0" fill="none"/>
<text x="272.26" y="502.6" font-size="9.2" text-anchor="middle" letter-spacing="0.42" fill="#111">*</text>
<rect x="300.4" y="516.8" width="10.1" height="14.7" fill="#000000"/>
<path d="M305.45 516.8V516.3M302.85 516.3H308.05" stroke="#2a2a2a" stroke-width="1.0" fill="none"/>
<rect x="311.9" y="493.5" width="10.1" height="38" fill="#c80000"/>
<path d="M316.95 493.5V492.3M314.35 492.3H319.55" stroke="#2a2a2a" stroke-width="1.0" fill="none"/>
<rect x="323.4" y="523.1" width="10.1" height="8.4" fill="#0000c0"/>
<path d="M328.45 523.1V522.2M325.85 522.2H331.05" stroke="#2a2a2a" stroke-width="1.0" fill="none"/>
<path d="M316.75 531.5V535" stroke="#2a2a2a" stroke-width="1.0"/>
<text x="317.45" y="545.6" font-size="10.0" text-anchor="middle" fill="#111">SAS</text>
<path d="M305 504.8V474.6H323.2V481M314.1 481H329.4" stroke="#2a2a2a" stroke-width="1.0" fill="none"/>
<text x="317.16" y="490.1" font-size="9.2" text-anchor="middle" letter-spacing="0.42" fill="#111">**</text>
<rect x="345.3" y="516.7" width="10.1" height="14.8" fill="#000000"/>
<path d="M350.35 516.7V516.2M347.75 516.2H352.95" stroke="#2a2a2a" stroke-width="1.0" fill="none"/>
<rect x="356.8" y="476.4" width="10.1" height="55.1" fill="#c80000"/>
<path d="M361.85 476.4V474.2M359.25 474.2H364.45" stroke="#2a2a2a" stroke-width="1.0" fill="none"/>
<rect x="368.3" y="512.4" width="10.1" height="19.1" fill="#0000c0"/>
<path d="M373.35 512.4V510.4M370.75 510.4H375.95" stroke="#2a2a2a" stroke-width="1.0" fill="none"/>
<path d="M361.65 531.5V535" stroke="#2a2a2a" stroke-width="1.0"/>
<text x="361.95" y="545.6" font-size="10.0" text-anchor="middle" fill="#111">SCC25</text>
<path d="M350.7 501.6V456.2H368.8V462.4M361 462.4H376.4" stroke="#2a2a2a" stroke-width="1.0" fill="none"/>
<text x="362.06" y="472.9" font-size="9.2" text-anchor="middle" letter-spacing="0.42" fill="#111">**</text>
<rect x="390.2" y="517" width="10.1" height="14.5" fill="#000000"/>
<path d="M395.25 517V514.8M392.65 514.8H397.85" stroke="#2a2a2a" stroke-width="1.0" fill="none"/>
<rect x="401.7" y="501" width="10.1" height="30.5" fill="#c80000"/>
<path d="M406.75 501V498.7M404.15 498.7H409.35" stroke="#2a2a2a" stroke-width="1.0" fill="none"/>
<rect x="413.2" y="526.4" width="10.1" height="5.1" fill="#0000c0"/>
<path d="M418.25 526.4V523.9M415.65 523.9H420.85" stroke="#2a2a2a" stroke-width="1.0" fill="none"/>
<path d="M406.55 531.5V535" stroke="#2a2a2a" stroke-width="1.0"/>
<text x="405.25" y="545.6" font-size="10.0" text-anchor="middle" fill="#111">YD10B</text>
<path d="M395.8 511.5V481.1H414V486.6M404.9 486.6H420.7" stroke="#2a2a2a" stroke-width="1.0" fill="none"/>
<text x="406.96" y="496.6" font-size="9.2" text-anchor="middle" letter-spacing="0.42" fill="#111">*</text>
<text x="418.46" y="522" font-size="9.2" text-anchor="middle" letter-spacing="0.42" fill="#111">**</text>
<rect x="435.1" y="517" width="10.1" height="14.5" fill="#000000"/>
<path d="M440.15 517V514M437.55 514H442.75" stroke="#2a2a2a" stroke-width="1.0" fill="none"/>
<rect x="446.6" y="521.4" width="10.1" height="10.1" fill="#c80000"/>
<path d="M451.65 521.4V517.3M449.05 517.3H454.25" stroke="#2a2a2a" stroke-width="1.0" fill="none"/>
<rect x="458.1" y="517.3" width="10.1" height="14.2" fill="#0000c0"/>
<path d="M463.15 517.3V516.8M460.55 516.8H465.75" stroke="#2a2a2a" stroke-width="1.0" fill="none"/>
<path d="M451.45 531.5V535" stroke="#2a2a2a" stroke-width="1.0"/>
<text x="451.25" y="545.6" font-size="10.0" text-anchor="middle" fill="#111">YD38</text>
<path d="M440.1 507.3V499.5H458.5V505.7M450.1 505.7H465.9" stroke="#2a2a2a" stroke-width="1.0" fill="none"/>
<text x="451.86" y="515.3" font-size="9.2" text-anchor="middle" letter-spacing="0.42" fill="#111">*</text>
<rect x="480" y="517.1" width="10.1" height="14.4" fill="#000000"/>
<path d="M485.05 517.1V514.3M482.45 514.3H487.65" stroke="#2a2a2a" stroke-width="1.0" fill="none"/>
<rect x="491.5" y="509.3" width="10.1" height="22.2" fill="#c80000"/>
<path d="M496.55 509.3V505.8M493.95 505.8H499.15" stroke="#2a2a2a" stroke-width="1.0" fill="none"/>
<rect x="503" y="510.4" width="10.1" height="21.1" fill="#0000c0"/>
<path d="M508.05 510.4V508.6M505.45 508.6H510.65" stroke="#2a2a2a" stroke-width="1.0" fill="none"/>
<path d="M496.35 531.5V535" stroke="#2a2a2a" stroke-width="1.0"/>
<text x="495.75" y="545.6" font-size="10.0" text-anchor="middle" fill="#111">YD9</text>
<path d="M486.4 506V487.5H504.3V493.8M495.2 493.8H511" stroke="#2a2a2a" stroke-width="1.0" fill="none"/>
<text x="496.76" y="502.4" font-size="9.2" text-anchor="middle" letter-spacing="0.42" fill="#111">*</text>
<text x="508.26" y="504.6" font-size="9.2" text-anchor="middle" letter-spacing="0.42" fill="#111">*</text>
<rect x="477.3" y="441.8" width="14" height="4.7" fill="#000000"/>
<text x="499.1" y="446.95" font-size="9.0" fill="#111">Mock</text>
<rect x="477.3" y="452.55" width="14" height="4.7" fill="#c80000"/>
<text x="499.1" y="457.7" font-size="9.0" fill="#111" letter-spacing="0.25">5-aza-dC</text>
<rect x="477.3" y="463.55" width="14" height="4.7" fill="#0000c0"/>
<text x="499.1" y="468.7" font-size="9.0" fill="#111">TSA</text>
</svg>
</body></html>
